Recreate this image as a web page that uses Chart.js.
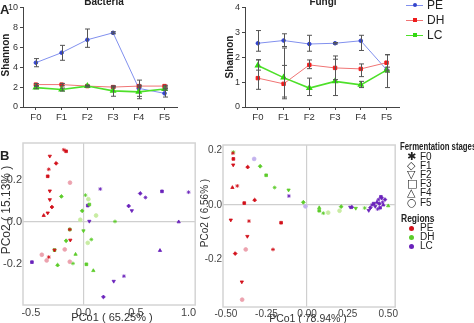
<!DOCTYPE html>
<html>
<head>
<meta charset="utf-8">
<script src="https://cdn.jsdelivr.net/npm/chart.js@4.4.1/dist/chart.umd.min.js"></script>
<style>
body { margin: 0; background: #fff; font-family: "Liberation Sans", Arial, sans-serif; }
#wrap { position: relative; width: 474px; height: 323px; overflow: hidden; }
canvas { position: absolute; }
.t { position: absolute; white-space: nowrap; color: #222; line-height: 1; }
.rot { transform: translate(-50%, -50%) rotate(-90deg); }
.c { transform: translate(-50%, -50%); }
.leg { position: absolute; font-size: 10px; line-height: 1; white-space: nowrap; color: #222; }
</style>
</head>
<body>
<div id="wrap">
  <canvas id="bac" width="183" height="125" style="left:0;top:0"></canvas>
  <canvas id="fun" width="183" height="125" style="left:222px;top:0"></canvas>
  <canvas id="pcoBac" width="200" height="188" style="left:0;top:135px"></canvas>
  <canvas id="pcoFun" width="200" height="188" style="left:200px;top:135px"></canvas>

  <div class="t" style="left:0;top:3px;font-size:13px;font-weight:bold">A</div>
  <div class="t" style="left:0;top:149px;font-size:13px;font-weight:bold">B</div>
  <div class="t c" style="left:104px;top:2px;font-size:10px;font-weight:bold">Bacteria</div>
  <div class="t c" style="left:323px;top:2px;font-size:10px;font-weight:bold">Fungi</div>
  <div class="t rot" style="left:6px;top:55px;font-size:10px;font-weight:bold">Shannon</div>
  <div class="t rot" style="left:230px;top:57px;font-size:10px;font-weight:bold">Shannon</div>
  <div class="t rot" style="left:6px;top:210px;font-size:12px;color:#333">PCo2 ( 15.13% )</div>
  <div class="t c" style="left:112px;top:317px;font-size:11px;color:#333">PCo1 ( 65.25% )</div>
  <div class="t rot" style="left:205px;top:213px;font-size:10px;color:#333">PCo2 ( 6.56% )</div>
  <div class="t c" style="left:308px;top:318px;font-size:10.5px;color:#333">PCo1 ( 78.94% )</div>

  <div id="legA"></div>
  <div id="legB"></div>
</div>

<script>
// ---- panel A: Shannon index per fermentation stage
const stages = ['F0', 'F1', 'F2', 'F3', 'F4', 'F5'];
const regions = ['PE', 'DH', 'LC'];

const bacPE = [4.45, 5.45, 6.75, 7.45, 1.87, 1.37];
const bacDH = [2.25, 2.25, 2.1, 2.0, 2.1, 2.1];
const bacLC = [1.95, 1.75, 2.1, 1.62, 1.52, 1.8];
// [down, up]
const bacPEerr = [[0.41, 0.41], [0.76, 0.74], [0.76, 1.08], [0.1, 0.1], [0.8, 0.83], [0.37, 0.47]];
const bacDHerr = [[0.1, 0.1], [0.12, 0.12], [0.08, 0.08], [0.08, 0.08], [0.1, 0.1], [0.08, 0.08]];
const bacLCerr = [[0.12, 0.12], [0.15, 0.15], [0.08, 0.08], [0.54, 0.5], [0.69, 0.6], [0.1, 0.1]];

const funPE = [2.56, 2.67, 2.53, 2.56, 2.66, 1.5];
const funDH = [1.16, 0.93, 1.69, 1.57, 1.53, 1.78];
const funLC = [1.67, 1.18, 0.76, 1.03, 0.89, 1.48];
const funPEerr = [[0.32, 0.51], [0.24, 0.27], [0.29, 0.35], [0.03, 0.03], [0.39, 0.22], [0.1, 0.1]];
const funDHerr = [[0.45, 0.73], [0.6, 1.44], [0.15, 0.2], [0.47, 0.48], [0.31, 0.2], [0.3, 0.32]];
const funLCerr = [[0.19, 0.23], [0.78, 0.49], [0.3, 0.4], [0.57, 0.89], [0.11, 0.14], [0.7, 0.62]];

const bacYTicks = [0, 2, 4, 6, 8, 10];
const funYTicks = [0, 1, 2, 3, 4];

// ---- panel B: PCoA, [x, y, stage index]
const pcoBacPE = [[-0.187, 0.34, 0], [-0.165, 0.333, 3], [-0.32, 0.31, 2], [-0.26, 0.276, 1], [-0.33, 0.248, 0],
  [-0.34, 0.215, 3], [-0.128, 0.185, 5], [-0.32, 0.146, 2], [-0.32, 0.105, 2], [-0.30, 0.07, 1], [-0.34, 0.042, 2],
  [-0.378, 0.03, 4], [-0.13, -0.036, 0], [-0.125, -0.086, 2], [-0.275, -0.133, 2], [-0.33, -0.166, 0],
  [-0.396, -0.155, 5], [-0.35, -0.182, 5], [-0.178, -0.13, 5], [-0.13, -0.188, 5]];
const pcoBacDH = [[-0.21, 0.12, 1], [0.019, 0.126, 0], [0.047, 0.107, 5], [0.056, 0.082, 3], [-0.012, 0.052, 1],
  [0.12, 0.03, 5], [-0.03, 0.01, 5], [0.30, 0.002, 0], [-0.13, -0.036, 3], [0.0, -0.042, 2], [-0.165, -0.089, 1],
  [0.075, -0.083, 0], [0.041, -0.099, 5], [-0.275, -0.133, 3], [-0.075, -0.153, 4], [-0.246, -0.204, 1],
  [-0.1, -0.196, 0], [0.028, -0.2, 3], [0.094, -0.23, 4]];
const pcoBacLC = [[0.16, 0.155, 0], [0.041, 0.077, 3], [0.056, 0.003, 2], [0.54, 0.134, 1], [0.59, 0.115, 0],
  [0.747, 0.144, 3], [1.0, 0.14, 0], [0.43, 0.075, 1], [0.46, 0.053, 2], [0.906, 0.0, 4], [0.728, -0.135, 4],
  [0.385, -0.256, 0], [0.288, -0.28, 2], [0.19, -0.354, 1], [-0.49, -0.19, 3]];

const pcoFunPE = [[-0.457, 0.19, 0], [-0.454, 0.169, 3], [-0.455, 0.147, 2], [-0.366, 0.139, 1], [-0.46, 0.064, 4],
  [-0.43, 0.07, 0], [-0.387, 0.007, 3], [-0.323, 0.018, 1], [-0.47, -0.055, 2], [-0.358, -0.059, 0],
  [-0.16, -0.065, 3], [-0.368, -0.115, 2], [-0.443, -0.178, 1], [-0.21, -0.163, 0], [-0.402, -0.282, 2],
  [-0.378, -0.163, 5], [-0.4, -0.347, 5]];
const pcoFunDH = [[-0.454, 0.194, 0], [-0.289, 0.142, 1], [-0.252, 0.109, 3], [-0.2, 0.064, 0], [-0.114, 0.055, 2],
  [-0.023, 0.01, 1], [0.075, -0.01, 4], [0.075, -0.021, 3], [0.1, -0.03, 0], [0.13, -0.028, 5], [0.2, -0.021, 5],
  [0.21, -0.006, 1], [0.3, -0.012, 2], [0.355, -0.011, 0], [0.5, -0.003, 4]];
const pcoFunLC = [[-0.326, 0.169, 5], [-0.112, 0.033, 0], [-0.01, -0.005, 5], [0.266, -0.008, 2], [0.276, -0.008, 1],
  [0.38, -0.02, 2], [0.39, -0.01, 1], [0.40, 0.0, 0], [0.41, 0.005, 3], [0.42, -0.005, 2], [0.43, 0.01, 4],
  [0.44, 0.02, 0], [0.445, 0.005, 1], [0.45, -0.01, 3], [0.46, 0.025, 2], [0.465, 0.01, 0], [0.47, 0.0, 4],
  [0.48, 0.02, 1], [0.455, 0.03, 3], [0.435, -0.015, 0]];

const pcoBacXTicks = [-0.5, 0, 0.5, 1.0];
const pcoBacYTicks = [-0.2, 0, 0.2];
const pcoFunXTicks = [-0.5, -0.25, 0, 0.25, 0.5];
const pcoFunYTicks = [-0.2, 0, 0.2];

// styles
const lineCol = { PE: '#3344cc', DH: '#ee1c1c', LC: '#33d811' };
const lineFade = { PE: '#8190ee', DH: '#f07474', LC: '#4ee02a' };
const lineMark = { PE: 'circle', DH: 'rect', LC: 'triangle' };
const regCol = { PE: '#d2101a', DH: '#5ccc2a', LC: '#6a22bb' };
const regFaint = { PE: '#eca2ae', DH: '#c8eca2', LC: '#c3b2ee' };
const stageStyle = ['star', 'rectRot', 'triangle', 'rect', 'triangle', 'circle'];
const stageRot = [0, 0, 180, 0, 0, 0];
const stageSym = ['\u2731', '\u25C7', '\u25BD', '\u25A1', '\u25B3', '\u25CB'];

Chart.defaults.font.family = '"Liberation Sans", Arial, sans-serif';
Chart.defaults.color = '#333';

const errBars = {
  id: 'errBars',
  afterDatasetsDraw(chart) {
    const { ctx, scales: { x, y } } = chart;
    ctx.save();
    ctx.strokeStyle = '#555';
    ctx.lineWidth = 1;
    chart.data.datasets.forEach(ds => {
      ds.err.forEach((e, i) => {
        const px = Math.round(x.getPixelForValue(i)) + 0.5;
        const top = y.getPixelForValue(ds.data[i] + e[1]);
        const bot = y.getPixelForValue(ds.data[i] - e[0]);
        ctx.beginPath();
        ctx.moveTo(px, top); ctx.lineTo(px, bot);
        ctx.moveTo(px - 2.5, top); ctx.lineTo(px + 2.5, top);
        ctx.moveTo(px - 2.5, bot); ctx.lineTo(px + 2.5, bot);
        ctx.stroke();
      });
    });
    ctx.restore();
  }
};

function lineChart(id, series, errs, yTicks, yMax) {
  new Chart(document.getElementById(id), {
    type: 'line',
    data: {
      labels: stages,
      datasets: regions.map((r, k) => ({
        label: r,
        data: series[k],
        err: errs[k],
        borderColor: lineFade[r],
        borderWidth: r === 'LC' ? 1.6 : 1,
        pointStyle: lineMark[r],
        pointRadius: r === 'PE' ? 1.8 : 2.4,
        pointBackgroundColor: lineCol[r],
        pointBorderColor: lineCol[r],
        tension: 0
      })).reverse()
    },
    options: {
      responsive: false,
      animation: false,
      layout: { padding: { top: 3, right: 2, left: 0, bottom: 0 } },
      plugins: { legend: { display: false }, tooltip: { enabled: false } },
      scales: {
        x: {
          offset: true,
          grid: { display: true, drawOnChartArea: false, offset: false, tickLength: 3, color: '#444' },
          border: { color: '#444' },
          ticks: { font: { size: 9.5 }, color: '#333', padding: 2, maxRotation: 0 },
          afterFit: s => { s.height = 18; }
        },
        y: {
          min: 0, max: yMax,
          grid: { display: true, drawOnChartArea: false, tickLength: 3, color: '#444' },
          border: { color: '#444' },
          ticks: { font: { size: 9 }, color: '#333', padding: 2 },
          afterBuildTicks: s => { s.ticks = yTicks.map(v => ({ value: v })); },
          afterFit: s => { s.width = 23; }
        }
      }
    },
    plugins: [errBars]
  });
}

lineChart('bac', [bacPE, bacDH, bacLC], [bacPEerr, bacDHerr, bacLCerr], bacYTicks, 10);
lineChart('fun', [funPE, funDH, funLC], [funPEerr, funDHerr, funLCerr], funYTicks, 4);

const boxPlugin = {
  id: 'box',
  beforeDatasetsDraw(chart) {
    const { ctx, chartArea: a } = chart;
    ctx.save();
    ctx.strokeStyle = '#d4d4d4';
    ctx.lineWidth = 1.5;
    ctx.strokeRect(a.left, a.top, a.right - a.left, a.bottom - a.top);
    ctx.restore();
  }
};

function pcoChart(id, sets, xr, yr, xTicks, yTicks, dec, pad, fontSize) {
  new Chart(document.getElementById(id), {
    type: 'scatter',
    data: {
      datasets: regions.map((r, k) => ({
        label: r,
        data: sets[k].map(p => ({ x: p[0], y: p[1] })),
        pointStyle: c => stageStyle[sets[k][c.dataIndex][2]],
        rotation: c => stageRot[sets[k][c.dataIndex][2]],
        pointRadius: 1.9,
        borderWidth: 0.8,
        backgroundColor: c => sets[k][c.dataIndex][2] === 5 ? regFaint[r] : regCol[r],
        borderColor: c => sets[k][c.dataIndex][2] === 5 ? regFaint[r] : regCol[r]
      }))
    },
    options: {
      responsive: false,
      animation: false,
      layout: { padding: pad },
      plugins: { legend: { display: false }, tooltip: { enabled: false } },
      scales: {
        x: {
          type: 'linear', min: xr[0], max: xr[1],
          grid: { drawTicks: false, color: c => c.tick && c.tick.value === 0 ? '#cfcfcf' : 'rgba(0,0,0,0)', lineWidth: 1.2 },
          border: { display: false },
          ticks: { font: { size: fontSize }, color: '#444', padding: 1, callback: v => v.toFixed(dec[0]) },
          afterBuildTicks: s => { s.ticks = xTicks.map(v => ({ value: v })); },
          afterFit: s => { s.height = pad.xh; }
        },
        y: {
          type: 'linear', min: yr[0], max: yr[1],
          grid: { drawTicks: false, color: c => c.tick && c.tick.value === 0 ? '#cfcfcf' : 'rgba(0,0,0,0)', lineWidth: 1.2 },
          border: { display: false },
          ticks: { font: { size: fontSize }, color: '#444', padding: 1, callback: v => v.toFixed(1) },
          afterBuildTicks: s => { s.ticks = yTicks.map(v => ({ value: v })); },
          afterFit: s => { s.width = pad.yw; }
        }
      }
    },
    plugins: [boxPlugin]
  });
}

pcoChart('pcoBac', [pcoBacPE, pcoBacDH, pcoBacLC], [-0.575, 1.063], [-0.392, 0.372],
  pcoBacXTicks, pcoBacYTicks, [1], { top: 8, right: 2, left: 0, bottom: 0, xh: 18, yw: 23 }, 11);
pcoChart('pcoFun', [pcoFunPE, pcoFunDH, pcoFunLC], [-0.518, 0.543], [-0.374, 0.22],
  pcoFunXTicks, pcoFunYTicks, [2], { top: 10, right: 3, left: 0, bottom: 0, xh: 16, yw: 23 }, 10);

// legends
const legA = document.getElementById('legA');
regions.forEach((r, k) => {
  const y = 5 + k * 15;
  legA.innerHTML +=
    `<div style="position:absolute;left:406px;top:${y}px;width:17px;height:1px;background:${lineFade[r]}"></div>` +
    `<div style="position:absolute;left:413px;top:${y - 2}px;width:4px;height:4px;background:${lineCol[r]};border-radius:${r === 'PE' ? '50%' : '0'}"></div>` +
    `<div class="leg" style="left:427px;top:${y - 6}px;font-size:12px">${r}</div>`;
});

const legB = document.getElementById('legB');
legB.innerHTML += `<div class="leg" style="left:400px;top:142px;font-weight:bold;transform:scaleX(0.78);transform-origin:0 0">Fermentation stages</div>`;
const rowY = [157, 166, 175, 184.3, 193.3, 202.7];
stages.forEach((s, i) => {
  legB.innerHTML +=
    `<div class="leg" style="left:407px;top:${rowY[i] - 6}px;font-size:11px;font-family:'DejaVu Sans'">${stageSym[i]}</div>` +
    `<div class="leg" style="left:420px;top:${rowY[i] - 5}px">${s}</div>`;
});
legB.innerHTML += `<div class="leg" style="left:401px;top:214px;font-weight:bold;transform:scaleX(0.85);transform-origin:0 0">Regions</div>`;
regions.forEach((r, k) => {
  const y = 228 + k * 9;
  legB.innerHTML +=
    `<div style="position:absolute;left:409px;top:${y - 2.5}px;width:5px;height:5px;border-radius:50%;background:${regCol[r]}"></div>` +
    `<div class="leg" style="left:420px;top:${y - 5}px">${r}</div>`;
});
</script>
</body>
</html>
